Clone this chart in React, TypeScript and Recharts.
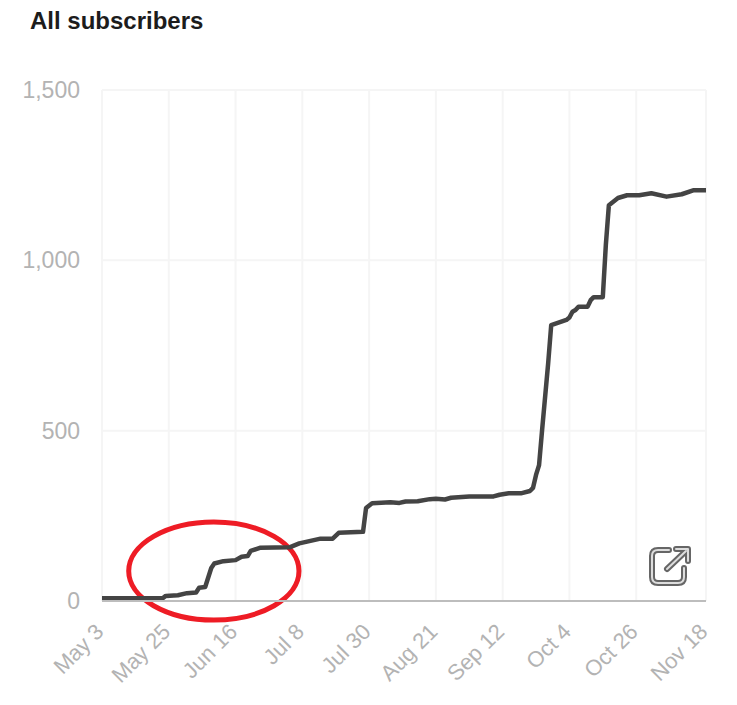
import { CartesianGrid, Line, LineChart, ReferenceArea, XAxis, YAxis } from "recharts";

const days = [
  0, 20, 21, 25, 28, 31, 32, 34, 36, 37, 40, 44, 46, 48, 49, 52, 62, 65, 72, 76, 78, 86, 87, 89, 95, 98, 100, 104, 108,
  110, 113, 115, 121, 129, 131, 134, 138, 141, 142, 143, 144, 145, 147, 148, 153, 154, 155, 156, 157, 160, 161, 162,
  165, 166, 167, 170, 173, 177, 181, 186, 191, 195, 199,
];
const subscribers = [
  8, 8, 15, 17, 23, 25, 39, 41, 97, 110, 117, 120, 130, 132, 147, 156, 158, 169, 183, 183, 200, 203, 273, 287, 290,
  288, 292, 293, 299, 300, 298, 303, 307, 307, 312, 316, 316, 323, 332, 370, 399, 502, 698, 810, 825, 832, 849, 854,
  864, 864, 883, 892, 892, 1045, 1162, 1183, 1191, 1191, 1197, 1187, 1194, 1206, 1206,
];
const tickDays = [0, 22, 44, 66, 88, 110, 132, 154, 176, 199];
const tickLabels = ["May 3", "May 25", "Jun 16", "Jul 8", "Jul 30", "Aug 21", "Sep 12", "Oct 4", "Oct 26", "Nov 18"];
const yTicks = [0, 500, 1000, 1500];

const data = days.map((day, i) => ({ day, subscribers: subscribers[i] }));
const font = '"Liberation Sans", Arial, sans-serif';

function Ellipse({ x, y, width, height }: any) {
  return (
    <ellipse
      cx={x + width / 2}
      cy={y + height / 2}
      rx={width / 2}
      ry={height / 2}
      fill="none"
      stroke="#ee1c25"
      strokeWidth={5}
    />
  );
}

function DateTick({ x, y, payload }: any) {
  const tx = x + 3;
  const ty = y + 26;
  return (
    <text x={tx} y={ty} transform={`rotate(-45 ${tx} ${ty})`} textAnchor="end" fill="#b3b3b3" fontSize={22}>
      {tickLabels[tickDays.indexOf(payload.value)]}
    </text>
  );
}

export default function App() {
  return (
    <div style={{ position: "relative", width: 737, height: 705, margin: -8, background: "#fff", fontFamily: font }}>
      <div style={{ position: "absolute", left: 30, top: 7, fontSize: 24, fontWeight: 700, color: "#1c1c1c" }}>
        All subscribers
      </div>
      <LineChart width={737} height={705} data={data} margin={{ top: 90, right: 31, bottom: 0, left: 0 }}>
        <CartesianGrid stroke="#f5f5f5" strokeWidth={2} />
        <XAxis
          dataKey="day"
          type="number"
          domain={[0, 199]}
          ticks={tickDays}
          interval={0}
          stroke="#bdbdbd"
          strokeWidth={2}
          tickLine={false}
          height={104}
          tick={<DateTick />}
          tickMargin={0}
        />
        <YAxis
          domain={[0, 1500]}
          ticks={yTicks}
          width={102}
          axisLine={false}
          tickLine={false}
          tickFormatter={(v: number) => v.toLocaleString("en-US")}
          tick={{ fill: "#b3b3b3", fontSize: 23 }}
          tickMargin={16}
        />
        <Line
          dataKey="subscribers"
          stroke="#444444"
          strokeWidth={4.5}
          strokeLinejoin="round"
          dot={false}
          type="linear"
          isAnimationActive={false}
        />
        <ReferenceArea x1={8.8} x2={64.9} y1={-56} y2={232} ifOverflow="visible" shape={Ellipse} />
      </LineChart>
      <svg style={{ position: "absolute", left: 648, top: 544 }} width={46} height={44} viewBox="0 0 46 44" fill="none">
        <path
          d="M21 6 H10 Q4 6 4 12 V33 Q4 39 10 39 H30 Q36 39 36 33 V24"
          stroke="#666"
          strokeWidth={6}
          strokeLinecap="round"
        />
        <path
          d="M21 6 H10 Q4 6 4 12 V33 Q4 39 10 39 H30 Q36 39 36 33 V24"
          stroke="#ddd"
          strokeWidth={2}
          strokeLinecap="round"
        />
        <path d="M19 25 L38 7 M28 5 H40 V17" stroke="#666" strokeWidth={6} strokeLinecap="round" strokeLinejoin="round" />
        <path d="M19 25 L38 7 M28 5 H40 V17" stroke="#ddd" strokeWidth={2} strokeLinecap="round" strokeLinejoin="round" />
      </svg>
    </div>
  );
}
